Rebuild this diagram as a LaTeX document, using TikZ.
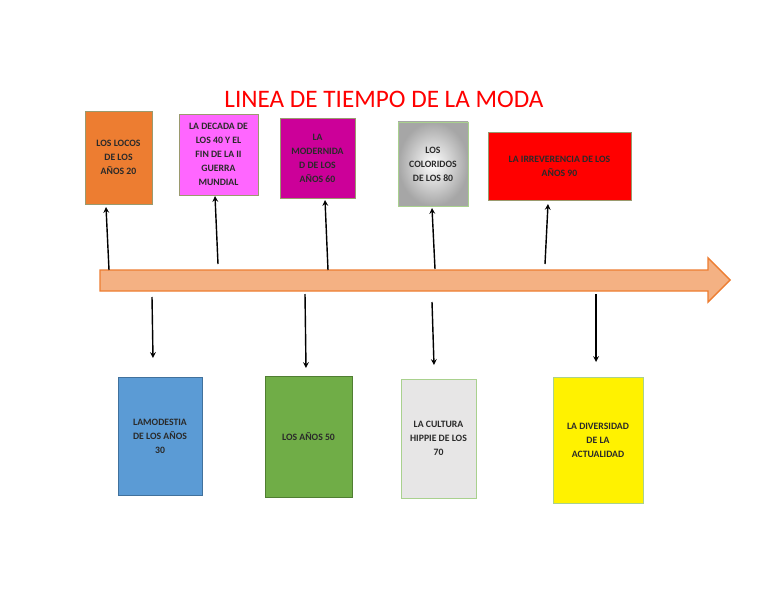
\documentclass[tikz,border=0pt]{standalone}
\usepackage{fontspec}
\setmainfont{Carlito}
\definecolor{naranja}{HTML}{ED7D31}
\definecolor{salmon}{HTML}{F4B183}
\definecolor{rosa}{HTML}{FF66FF}
\definecolor{fucsia}{HTML}{CC0099}
\definecolor{azul}{HTML}{5B9BD5}
\definecolor{azulborde}{HTML}{41719C}
\definecolor{verde}{HTML}{70AD47}
\definecolor{verdeborde}{HTML}{507E32}
\definecolor{verdeclaro}{HTML}{A9D18E}
\definecolor{grisclaro}{HTML}{E7E6E6}
\definecolor{oliva}{HTML}{9A9A6E}
\definecolor{letra}{HTML}{2A2A2A}
\begin{document}
\begin{tikzpicture}[
  x=0.03cm, y=-0.03cm,
  >=stealth,
  epoca/.style={draw,line width=0.6pt,inner sep=0pt,align=center,text=letra,font=\fontsize{8.3}{12}\selectfont\bfseries},
  flecha/.style={->,line width=1.2pt,black}
]
  \useasboundingbox (0,0) rectangle (768,594);

  % titulo
  \node[text=red,font=\fontsize{21.5}{24}\selectfont] (titulo) at (384,99) {LINEA DE TIEMPO DE LA MODA};

  % linea del tiempo
  \draw[naranja,fill=salmon,line width=1.2pt,line join=miter]
    (100,270) -- (708,270) -- (708,258) -- (730,280) -- (708,302) -- (708,291) -- (100,291) -- cycle;

  % arriba
  \node[epoca,fill=naranja,draw=oliva,minimum width=2.01cm,minimum height=2.79cm] (A20) at (118.5,157.5) {LOS LOCOS\\DE LOS\\AÑOS 20};
  \node[epoca,fill=rosa,draw=oliva,minimum width=2.37cm,minimum height=2.43cm] (A40) at (218.5,154.5) {LA DECADA DE\\LOS 40 Y EL\\FIN DE LA II\\GUERRA\\MUNDIAL};
  \node[epoca,fill=fucsia,draw=oliva,minimum width=2.25cm,minimum height=2.4cm] (A60) at (317.5,158) {LA\\MODERNIDA\\D DE LOS\\AÑOS 60};
  \node[epoca,inner color=white,outer color=black!35,draw=verdeclaro,minimum width=2.1cm,minimum height=2.52cm] (A80) at (433,164) {LOS\\COLORIDOS\\DE LOS 80};
  \node[epoca,fill=red,draw=oliva,minimum width=4.29cm,minimum height=2.04cm] (A90) at (559.5,166) {LA IRREVERENCIA DE LOS\\AÑOS 90};

  % abajo
  \node[epoca,fill=azul,draw=azulborde,minimum width=2.52cm,minimum height=3.54cm] (A30) at (160,436) {LAMODESTIA\\DE LOS AÑOS\\30};
  \node[epoca,fill=verde,draw=verdeborde,minimum width=2.61cm,minimum height=3.63cm] (A50) at (308.5,436.5) {LOS AÑOS 50};
  \node[epoca,fill=grisclaro,draw=verdeclaro,minimum width=2.25cm,minimum height=3.57cm] (A70) at (438.5,438.5) {LA CULTURA\\HIPPIE DE LOS\\70};
  \node[epoca,fill=yellow,draw=verdeclaro,minimum width=2.7cm,minimum height=3.78cm] (AHoy) at (598,440) {LA DIVERSIDAD\\DE LA\\ACTUALIDAD};

  % puntas de las flechas
  \coordinate (s20) at (109,270);  \coordinate (e20) at (106,207);
  \coordinate (s40) at (218,264);  \coordinate (e40) at (215,196);
  \coordinate (s60) at (328,270);  \coordinate (e60) at (325,200);
  \coordinate (s80) at (435,269);  \coordinate (e80) at (432,208);
  \coordinate (s90) at (545,264);  \coordinate (e90) at (548,204);
  \coordinate (s30) at (152,297);  \coordinate (e30) at (153,358);
  \coordinate (s50) at (305,294);  \coordinate (e50) at (306,368);
  \coordinate (s70) at (432,302);  \coordinate (e70) at (434,365);
  \coordinate (sHoy) at (596,294); \coordinate (eHoy) at (596,362);

  \foreach \d in {20,40,60,80,90,30,50,70,Hoy} {
    \draw[flecha] (s\d) -- (e\d);
  }
\end{tikzpicture}
\end{document}
